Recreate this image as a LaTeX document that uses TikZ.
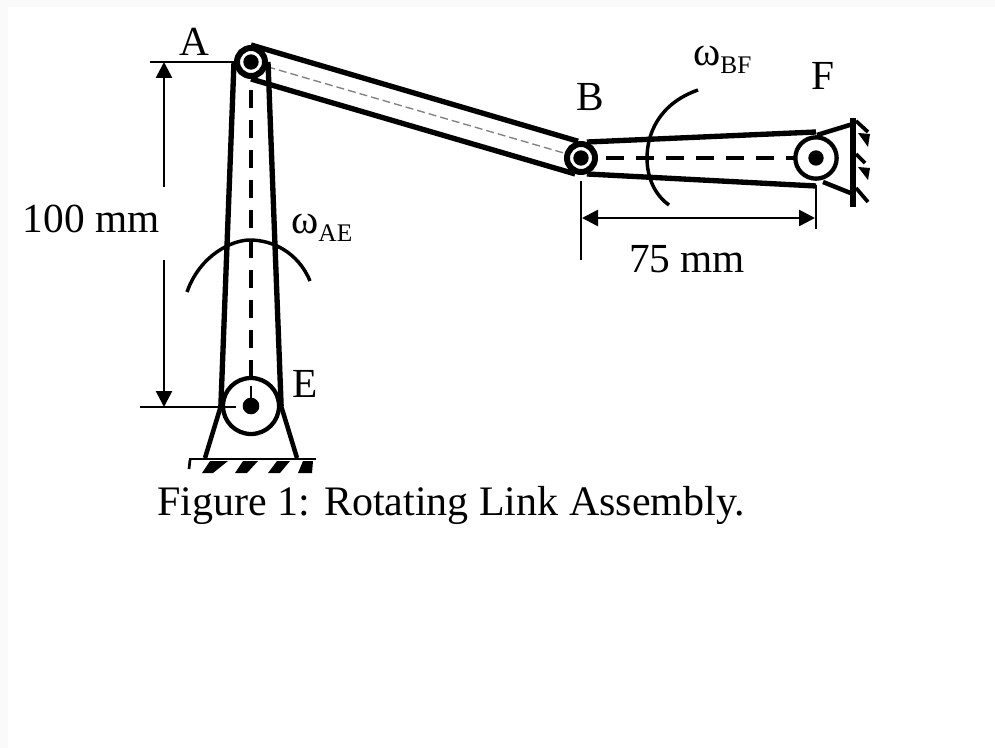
\documentclass[tikz,border=0pt]{standalone}
\usepackage{fontspec}
\setmainfont{Liberation Serif}
\usetikzlibrary{arrows.meta}
\tikzset{
  x=0.75pt,y=-0.75pt,
  lbl/.style={inner sep=0pt,font=\fontsize{31pt}{34pt}\selectfont},
  link/.style={line width=4pt},
  thin line/.style={line width=1.4pt},
  dimarrow/.style={line width=2pt,{Triangle[length=12pt,width=12pt]}-{Triangle[length=12pt,width=12pt]}},
  dimone/.style={line width=2pt,-{Triangle[length=12pt,width=12pt]}},
  swing/.style={line width=2.6pt},
  centreline/.style={line width=2.6pt,dash pattern=on 13.5pt off 9pt},
  greyline/.style={line width=1pt,draw=gray,dash pattern=on 6pt off 3pt},
  pinring/.style={circle,draw=black,fill=white,line width=4.5pt,inner sep=0pt,minimum size=21pt},
  bigring/.style={circle,draw=black,fill=white,line width=3.2pt,inner sep=0pt,minimum size=#1},
  hub/.style={circle,fill=black,inner sep=0pt,minimum size=11.5pt},
  legbar/.style={line width=3.4pt},
}
\begin{document}
\begin{tikzpicture}
\useasboundingbox (0,0) rectangle (995,748);
\fill[black!2] (0,0) rectangle (995,748);
\fill[white] (8,7) rectangle (995,748);
% named points
\coordinate (Ac) at (251,62);
\coordinate (Bc) at (581,158);
\coordinate (Ec) at (251,406);
\coordinate (Fc) at (816,158);
\coordinate (Fu) at (816,132);
\coordinate (Fl) at (816,186);
% pins are placed first so links can refer to them
\node[pinring] (A) at (Ac) {};
\node[pinring] (B) at (Bc) {};
\node[bigring=42pt] (E) at (Ec) {};
\node[bigring=31pt] (F) at (Fc) {};
% centre lines & links, then pins on top
\draw[greyline] (A) -- (B);
\draw[centreline] (251,90) -- (251,376);
\draw[centreline] (606,158) -- (796,158);
\draw[link] (A.north) -- (B.100);
\draw[link] (A.south) -- (B.250);
\draw[link] (B.70) -- (Fu);
\draw[link] (B.290) -- (Fl);
\draw[link] (A.west) -- (E.west);
\draw[link] (A.east) -- (E.east);
% supports
\draw[legbar] (E.west) -- (205,458);
\draw[legbar] (E.east) -- (297,458);
\draw[line width=2pt] (189,459) -- (316,459);
\fill (210,461) -- (228,461) -- (213,473) -- (202,473) -- cycle;
\fill (243,461) -- (258,461) -- (247,473) -- (235,473) -- cycle;
\fill (277,461) -- (290,461) -- (280,473) -- (268,473) -- cycle;
\fill (303,461) -- (313,461) -- (312,473) -- (298,473) -- cycle;
\draw[line width=2pt] (190,460) -- (189,469);
\draw[legbar] (817,135) -- (853,124);
\draw[legbar] (823,182) -- (853,194);
\draw[line width=4pt] (853,118) -- (853,207);
\draw[line width=2.8pt] (856,121) -- (868,132);
\fill (858,133) -- (870,134) -- (868,147) -- cycle;
\draw[line width=2.8pt] (856,154) -- (865,163);
\fill (858,167) -- (870,168) -- (868,180) -- cycle;
\draw[line width=2.8pt] (856,188) -- (868,202);
% pin interiors
\foreach \p in {Ac,Bc,Fc}{\node[hub] at (\p) {};}
\node[hub,minimum size=12.5pt] at (Ec) {};
\draw[line width=1.8pt] (251,386) -- (Ec);
% dimensions
\draw[thin line] (150,62) -- (A.west);
\draw[thin line] (140,407) -- (236,407);
\draw[dimone] (164,187) -- (164,62);
\draw[dimone] (164,260) -- (164,407);
\draw[thin line] (581,181) -- (581,260);
\draw[thin line] (816,185) -- (816,229);
\draw[dimarrow] (582,218) -- (815,218);
% rotation arcs
\draw[swing] (187,292) .. controls (200,255) and (232,240) .. (250,240) .. controls (272,240) and (298,252) .. (310,281);
\draw[swing] (698,90) .. controls (658,104) and (647,135) .. (647,158) .. controls (647,178) and (655,195) .. (669,205);
% labels
\node[lbl] (la) at (194,42) {A};
\node[lbl] (lb) at (590,97) {B};
\node[lbl] (lf) at (823,76) {F};
\node[lbl] (le) at (305,384) {E};
\node[lbl,anchor=west] (wae) at (291,228) {ω\raisebox{-6pt}{\fontsize{19pt}{22pt}\selectfont AE}};
\node[lbl,anchor=west] (wbf) at (693,60) {ω\raisebox{-6pt}{\fontsize{19pt}{22pt}\selectfont BF}};
\node[lbl] (d1) at (91,219) {100 mm};
\node[lbl] (d2) at (687,259) {75 mm};
\node[inner sep=0pt,font=\fontsize{31.5pt}{34pt}\selectfont] (cap) at (451,505) {Figure 1: Rotating Link Assembly.};
\end{tikzpicture}
\end{document}
